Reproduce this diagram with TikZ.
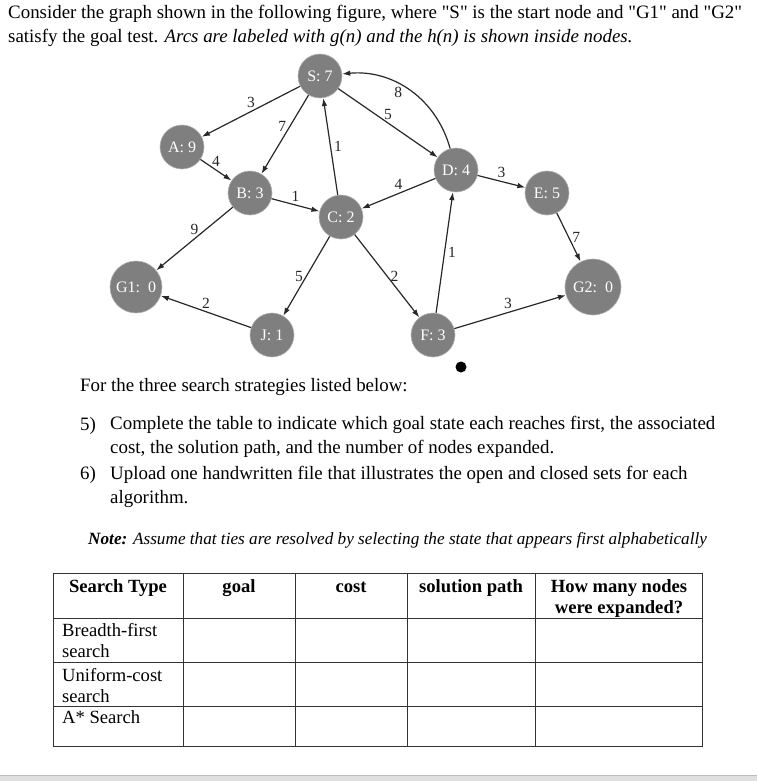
\documentclass[tikz,border=0pt]{standalone}
\usepackage{fontspec}
\setmainfont{Liberation Serif}
\usetikzlibrary{arrows.meta}
\definecolor{nodegray}{RGB}{127,127,127}
\definecolor{edgegray}{RGB}{40,40,40}
\begin{document}
\begin{tikzpicture}[x=1pt,y=-1pt,
    state/.style={circle,fill=nodegray,draw=gray!60,line width=0.6pt,minimum size=44pt,inner sep=0pt,text=white,font=\fontsize{16}{18}\selectfont},
    arc/.style={->,edgegray,line width=1.2pt},
    lbl/.style={font=\fontsize{15.5}{17}\selectfont,text=black!85,inner sep=3pt},
    txt/.style={anchor=base west,inner sep=0pt,font=\fontsize{18.9}{23.5}\selectfont},
    cell/.style={anchor=base west,inner sep=0pt,align=left,font=\fontsize{18.6}{21}\selectfont},
    hdr/.style={anchor=base,inner sep=0pt,align=center,font=\fontsize{18.6}{21}\selectfont\bfseries},
    >={Latex[length=8pt,width=5.5pt]}]
    \useasboundingbox (0,0) rectangle (757,781);
    \fill[gray!25] (0,775) rectangle (757,781);
    \draw[gray!50] (0,775) -- (757,775);

    \node[txt] (l1) at (8,19) {Consider the graph shown in the following figure, where \textquotedbl S\textquotedbl\ is the start node and \textquotedbl G1\textquotedbl\ and \textquotedbl G2\textquotedbl};
    \node[txt] (l2) at (8,43) {satisfy the goal test. \textit{Arcs are labeled with g(n) and the h(n) is shown inside nodes.}};

    \node[state] (S) at (320,76) {S: 7};
    \node[state] (A) at (182,147) {A: 9};
    \node[state] (B) at (250,193) {B: 3};
    \node[state] (C) at (341,217) {C: 2};
    \node[state] (D) at (456,170) {D: 4};
    \node[state] (E) at (547,193) {E: 5};
    \node[state,minimum size=52pt] (G1) at (136,287) {G1:\ \ 0};
    \node[state] (J) at (272,335) {J: 1};
    \node[state] (F) at (433,335) {F: 3};
    \node[state,minimum size=56pt] (G2) at (593,287) {G2:\ \ 0};

    \draw[arc] (S) -- node[lbl,above] {3} (A);
    \draw[arc] (S) -- node[lbl,left,pos=0.4] {7} (B);
    \draw[arc] (C) -- node[lbl,right] {1} (S);
    \draw[arc] (S) -- node[lbl,above] {5} (D);
    \draw[arc] (D) to[bend right=40] node[lbl,pos=0.6,below=0pt] {8} (S);
    \draw[arc] (A) -- node[lbl,above] {4} (B);
    \draw[arc] (B) -- node[lbl,above] {1} (C);
    \draw[arc] (D) -- node[lbl,above] {4} (C);
    \draw[arc] (B) -- node[lbl,above] {9} (G1);
    \draw[arc] (C) -- node[lbl,left] {5} (J);
    \draw[arc] (C) -- node[lbl,right] {2} (F);
    \draw[arc] (J) -- node[lbl,above] {2} (G1);
    \draw[arc] (F) -- node[lbl,right] {1} (D);
    \draw[arc] (D) -- node[lbl,above] {3} (E);
    \draw[arc] (E) -- node[lbl,right] {7} (G2);
    \draw[arc] (F) -- node[lbl,above,pos=0.48] {3} (G2);

    \node[circle,fill=black,minimum size=11pt,inner sep=0pt] (dot) at (461,367) {};

    \node[txt] (p0) at (80,391) {For the three search strategies listed below:};
    \node[txt] (n5) at (80,430) {5)};
    \node[txt,align=left] (p5) at (110,453) {Complete the table to indicate which goal state each reaches first, the associated\\cost, the solution path, and the number of nodes expanded.};
    \node[txt] (n6) at (80,479) {6)};
    \node[txt,align=left] (p6) at (110,503) {Upload one handwritten file that illustrates the open and closed sets for each\\algorithm.};
    \node[txt,font=\fontsize{17.2}{21}\selectfont] (note) at (88,544) {\textbf{\textit{Note:}} \textit{Assume that ties are resolved by selecting the state that appears first alphabetically}};

    \draw[black!80,line width=0.9pt] (53,573) rectangle (702,746);
    \foreach \x in {183,295,407,535} \draw[black!80,line width=0.9pt] (\x,573) -- (\x,746);
    \foreach \y in {618,662,706} \draw[black!80,line width=0.9pt] (53,\y) -- (702,\y);

    \node[hdr] (h1) at (118,592) {Search Type};
    \node[hdr] (h2) at (239,592) {goal};
    \node[hdr] (h3) at (351,592) {cost};
    \node[hdr] (h4) at (471,592) {solution path};
    \node[hdr] (h5) at (619,613) {How many nodes\\were expanded?};
    \node[cell] (r1) at (62,657) {Breadth-first\\search};
    \node[cell] (r2) at (62,702) {Uniform-cost\\search};
    \node[cell] (r3) at (62,723) {A* Search};
\end{tikzpicture}
\end{document}
